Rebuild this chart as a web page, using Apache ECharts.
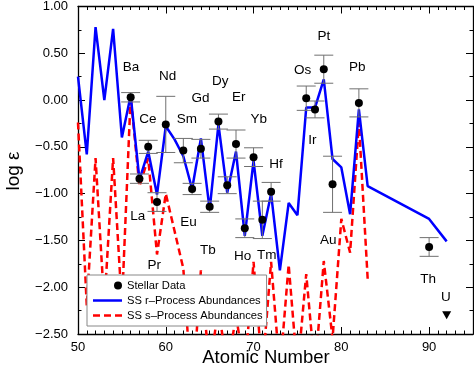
<!DOCTYPE html>
<html><head><meta charset="utf-8">
<script src="https://cdn.jsdelivr.net/npm/echarts@6/dist/echarts.min.js"></script>
<style>html,body{margin:0;padding:0;background:#fff}#c{width:474px;height:370px}</style>
</head><body><div id="c"></div>
<script>
// Solar-system r-process abundances (blue)
const rZ   = [50,51,52,53,54,55,56,57,58,59,60,61,62,63,64,65,66,67,68,69,70,71,72,73,74,75,76,77,78,79,80,81,82,83,90,92];
const rVal = [0.25,-0.58,0.78,0.00,0.76,-0.40,0.05,-0.85,-0.55,-1.01,-0.28,-0.42,-0.60,-0.95,-0.41,-1.17,-0.26,-0.99,-0.55,-1.45,-0.65,-1.45,-1.00,-1.82,-1.10,-1.23,-0.08,-0.08,0.22,-0.63,-0.72,-1.22,-0.10,-0.92,-1.27,-1.51];
// Solar-system s-process abundances (red dashed)
const sZ   = [50,51,52,53,54,55,56,57,58,59,60,61,62,63,64,65,66,67,68,69,70,71,72,73,74,75,76,77,78,79,80,81,82,83];
const sVal = [-0.24,-2.2,-0.62,-2.2,-0.62,-2.2,0.04,-0.92,-0.62,-1.65,-1.00,-1.40,-1.80,-3.2,-1.82,-2.9,-2.2,-2.9,-2.3,-2.9,-1.73,-2.9,-1.73,-2.9,-1.76,-2.9,-1.86,-2.9,-1.72,-2.55,-1.27,-1.63,-0.24,-1.91];
// Stellar data
const starNames = ['Ba','La','Ce','Pr','Nd','Sm','Eu','Gd','Tb','Dy','Ho','Er','Tm','Yb','Lu','Hf','Os','Ir','Pt','Au','Pb','Th'];
const starZ     = [56,57,58,59,60,62,63,64,65,66,67,68,69,70,71,72,76,77,78,79,82,90];
const starVal   = [0.03,-0.84,-0.50,-1.09,-0.26,-0.54,-0.95,-0.52,-1.14,-0.23,-0.91,-0.47,-1.37,-0.61,-1.28,-0.98,0.02,-0.10,0.33,-0.90,-0.03,-1.57];
const starErr   = [0.05,0.05,0.07,0.10,0.30,0.13,0.06,0.10,0.06,0.08,0.09,0.15,0.10,0.10,0.20,0.10,0.13,0.09,0.15,0.30,0.15,0.10];
// Upper limit (U)
const limZ   = [92];
const limVal = [-2.30];
// Element label anchors
const labelNames = ['Ba','Nd','Ce','Sm','Gd','Dy','Er','Yb','Hf','La','Pr','Eu','Tb','Ho','Tm','Os','Pt','Pb','Ir','Au','Th','U'];
const labelZ     = [56.05,60.2,57.95,62.4,63.95,66.2,68.3,70.6,72.55,56.8,58.7,62.6,64.8,68.75,71.5,75.6,78.0,81.8,76.7,78.5,89.9,91.9];
const labelV     = [0.35,0.25,-0.21,-0.20,0.015,0.20,0.03,-0.20,-0.69,-1.24,-1.77,-1.31,-1.61,-1.67,-1.66,0.32,0.68,0.35,-0.43,-1.50,-1.91,-2.11];
// Axis ticks
const xMin = 50, xMax = 95, xStep = 10;
const yMin = -2.5, yMax = 1.0, yStep = 0.5;

const FONT = 'Liberation Sans, Arial, Helvetica, sans-serif';
const chart = echarts.init(document.getElementById('c'), null, {renderer: 'canvas'});

function xAx(pos, showLabel) {
  return {
    type: 'value', min: xMin, max: xMax, interval: xStep, position: pos,
    axisLine: {show: true, onZero: false, lineStyle: {color: '#000', width: 1.3}},
    axisTick: {show: true, inside: true, length: 7, lineStyle: {color: '#000', width: 1}},
    minorTick: {show: true, splitNumber: 10, length: 3.5, lineStyle: {color: '#000', width: 1}},
    axisLabel: {show: showLabel, color: '#000', fontSize: 13, fontFamily: FONT, margin: 7, showMaxLabel: false},
    splitLine: {show: false}, minorSplitLine: {show: false}
  };
}
function yAx(pos, showLabel) {
  return {
    type: 'value', min: yMin, max: yMax, interval: yStep, position: pos,
    axisLine: {show: true, onZero: false, lineStyle: {color: '#000', width: 1.3}},
    axisTick: {show: true, inside: true, length: 7, lineStyle: {color: '#000', width: 1}},
    minorTick: {show: true, splitNumber: 2, length: 3.5, lineStyle: {color: '#000', width: 1}},
    axisLabel: {show: showLabel, color: '#000', fontSize: 13, fontFamily: FONT, margin: 10,
      formatter: v => (v < -1e-9 ? '\u2212' : '') + Math.abs(v).toFixed(2)},
    splitLine: {show: false}, minorSplitLine: {show: false}
  };
}

const option = {
  animation: false,
  backgroundColor: '#fff',
  grid: {left: 78, right: 1, top: 5, bottom: 36, containLabel: false},
  xAxis: [xAx('bottom', true), xAx('top', false)],
  yAxis: [yAx('left', true), yAx('right', false)],
  legend: {
    orient: 'vertical', left: 87, top: 275,
    backgroundColor: '#fff', borderColor: '#888', borderWidth: 1,
    padding: [5, 4, 5, 6], itemWidth: 29, itemHeight: 8, itemGap: 4,
    textStyle: {color: '#000', fontSize: 11.2, fontFamily: FONT, lineHeight: 10},
    data: [
      {name: 'Stellar Data', icon: 'path://M0,4L0.1,4M21,4A4,4,0,1,1,29,4A4,4,0,1,1,21,4Z', itemStyle: {color: '#000', opacity: 1}},
      {name: 'SS r\u2013Process Abundances', icon: 'path://M0,0L29,0L29,2.5L0,2.5Z'},
      {name: 'SS s\u2013Process Abundances', icon: 'path://M0,0h7v2.5h-7zM11,0h7v2.5h-7zM22,0h7v2.5h-7z'}
    ]
  },
  graphic: [
    {type: 'text', x: 266, y: 358, style: {text: 'Atomic Number', fontSize: 18.5, fontFamily: FONT, fill: '#000', align: 'center', verticalAlign: 'middle'}},
    {type: 'text', x: 14, y: 171, rotation: Math.PI / 2, style: {text: 'log \u03b5', fontSize: 19, fontFamily: FONT, fill: '#000', align: 'center', verticalAlign: 'middle'}}
  ],
  series: [
    {
      name: 'SS s\u2013Process Abundances', type: 'line', z: 2,
      data: sZ.map((z, i) => [z, sVal[i]]),
      showSymbol: false, symbol: 'none', clip: true,
      lineStyle: {color: '#ff0000', width: 2.5, type: [7, 4]},
      itemStyle: {color: '#ff0000'}
    },
    {
      name: 'SS r\u2013Process Abundances', type: 'line', z: 3,
      data: rZ.map((z, i) => [z, rVal[i]]),
      showSymbol: false, symbol: 'none', clip: true,
      lineStyle: {color: '#0000ff', width: 2.5},
      itemStyle: {color: '#0000ff'}
    },
    {
      name: 'errors', type: 'custom', z: 4, silent: true,
      encode: {x: 0, y: 1},
      data: starZ.map((z, i) => [z, starVal[i], starErr[i]]),
      renderItem: function (params, api) {
        const z = api.value(0), v = api.value(1), e = api.value(2);
        const t = api.coord([z, v + e]), b = api.coord([z, v - e]);
        const hw = 9.5;
        const st = {stroke: '#707070', lineWidth: 1};
        return {type: 'group', children: [
          {type: 'line', shape: {x1: t[0], y1: t[1], x2: b[0], y2: b[1]}, style: st},
          {type: 'line', shape: {x1: t[0] - hw, y1: t[1], x2: t[0] + hw, y2: t[1]}, style: st},
          {type: 'line', shape: {x1: b[0] - hw, y1: b[1], x2: b[0] + hw, y2: b[1]}, style: st}
        ]};
      }
    },
    {
      name: 'Stellar Data', type: 'scatter', z: 5,
      data: starZ.map((z, i) => ({name: starNames[i], value: [z, starVal[i]]})),
      symbol: 'circle', symbolSize: 8,
      itemStyle: {color: '#000', opacity: 1}
    },
    {
      name: 'U limit', type: 'scatter', z: 5,
      data: limZ.map((z, i) => [z, limVal[i]]),
      symbol: 'triangle', symbolRotate: 180, symbolSize: [9, 8],
      itemStyle: {color: '#000', opacity: 1}
    },
    {
      name: 'labels', type: 'scatter', z: 6, silent: true,
      data: labelNames.map((n, i) => ({name: n, value: [labelZ[i], labelV[i]]})),
      symbolSize: 1, itemStyle: {color: 'rgba(0,0,0,0)', opacity: 1},
      label: {show: true, position: 'inside', formatter: '{b}', color: '#000', opacity: 1, fontSize: 13.5, fontFamily: FONT}
    }
  ]
};
chart.setOption(option);
</script>
</body></html>
